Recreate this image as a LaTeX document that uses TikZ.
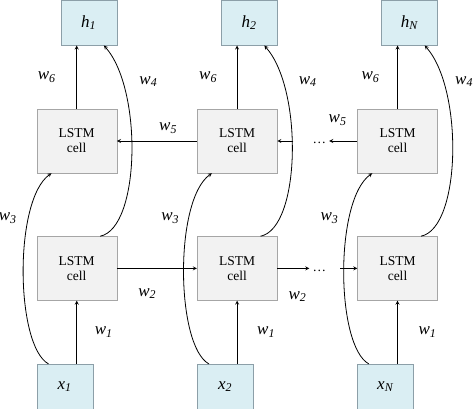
\documentclass[tikz,border=0pt]{standalone}
\usepackage{fontspec}
\setmainfont{Liberation Serif}
\usetikzlibrary{positioning}
\definecolor{cellgray}{HTML}{F2F2F2}
\definecolor{cellline}{HTML}{A6A6A6}
\definecolor{vecfill}{HTML}{DAEEF3}
\definecolor{vecline}{HTML}{8C9FA8}
\newcommand{\vsub}[2]{\textit{#1}\textsubscript{\textit{#2}}}
\tikzstyle{cell} = [rectangle, minimum width=80pt, minimum height=64pt, text centered, align=center, draw=cellline, fill=cellgray, font=\fontsize{13.5}{15}\selectfont]
\tikzstyle{vec} = [rectangle, minimum width=56pt, minimum height=45pt, text centered, draw=vecline, fill=vecfill, font=\fontsize{17}{19}\selectfont]
\tikzstyle{gap} = [inner sep=3pt, font=\fontsize{13.5}{15}\selectfont]
\tikzstyle{wlabel} = [font=\fontsize{17}{19}\selectfont]
\tikzstyle{arrow} = [line width=0.8pt,->,>=stealth]
\begin{document}
\begin{tikzpicture}[x=1pt, y=-1pt]
		\useasboundingbox (0,0) rectangle (474,409);
		\node (upA) [cell] at (76.7,141) {LSTM\\cell};
		\node (loA) [cell, below=63pt of upA] {LSTM\\cell};
		\node (upB) [cell, right=80pt of upA] {LSTM\\cell};
		\node (loB) [cell, below=63pt of upB] {LSTM\\cell};
		\node (upN) [cell, right=80pt of upB] {LSTM\\cell};
		\node (loN) [cell, below=63pt of upN] {LSTM\\cell};
		\node (dotsUp) [gap, right=32pt of upB] {\strut\dots};
		\node (dotsLo) [gap, right=32pt of loB] {\strut\dots};

		\node (hA) [vec, above=63.3pt of upA.north east, anchor=south east] {\vsub{h}{1}};
		\node (hB) [vec, above=63.3pt of upB.north east, anchor=south east] {\vsub{h}{2}};
		\node (hN) [vec, above=63.3pt of upN.north east, anchor=south east] {\vsub{h}{N}};
		\node (xA) [vec, below=63.3pt of loA.south west, anchor=north west] {\vsub{x}{1}};
		\node (xB) [vec, below=63.3pt of loB.south west, anchor=north west] {\vsub{x}{2}};
		\node (xN) [vec, below=63.3pt of loN.south west, anchor=north west] {\vsub{x}{N}};

		% first column
		\draw [arrow] (xA.north -| loA) -- node[wlabel, xshift=27pt] {\vsub{w}{1}} (loA);
		\draw [arrow] (upA) -- node[wlabel, xshift=-30pt] {\vsub{w}{6}} (upA.north |- hA.south);
		\draw [arrow] ([xshift=12pt]xA.north west) .. controls +(-33,-18) and +(-38,27) .. ([xshift=15pt]upA.south west) node[wlabel, pos=.72, xshift=-21pt] {\vsub{w}{3}};
		\draw [arrow] ([xshift=-16.7pt]loA.north east) .. controls +(40,-8) and +(39,44) .. ([xshift=-13pt]hA.south east) node[wlabel, pos=.8, xshift=26pt] {\vsub{w}{4}};

		% second column
		\draw [arrow] (xB.north -| loB) -- node[wlabel, xshift=29pt] {\vsub{w}{1}} (loB);
		\draw [arrow] (upB) -- node[wlabel, xshift=-29pt] {\vsub{w}{6}} (upB.north |- hB.south);
		\draw [arrow] ([xshift=12pt]xB.north west) .. controls +(-33,-18) and +(-38,27) .. ([xshift=15pt]upB.south west) node[wlabel, pos=.72, xshift=-19pt] {\vsub{w}{3}};
		\draw [arrow] ([xshift=-16.7pt]loB.north east) .. controls +(40,-8) and +(39,44) .. ([xshift=-13pt]hB.south east) node[wlabel, pos=.8, xshift=25pt] {\vsub{w}{4}};

		% last column
		\draw [arrow] (xN.north -| loN) -- node[wlabel, xshift=30pt] {\vsub{w}{1}} (loN);
		\draw [arrow] (upN) -- node[wlabel, xshift=-27pt] {\vsub{w}{6}} (upN.north |- hN.south);
		\draw [arrow] ([xshift=11.5pt]xN.north west) .. controls +(-33,-18) and +(-38,27) .. ([xshift=15pt]upN.south west) node[wlabel, pos=.72, xshift=-20pt] {\vsub{w}{3}};
		\draw [arrow] ([xshift=-16.7pt]loN.north east) .. controls +(40,-8) and +(39,44) .. ([xshift=-13pt]hN.south east) node[wlabel, pos=.8, xshift=21pt] {\vsub{w}{4}};

		% across the rows
		\draw [arrow] (loA) -- node[wlabel, pos=.38, yshift=-25pt] {\vsub{w}{2}} (loB);
		\draw [arrow] (loB) -- node[wlabel, pos=.63, yshift=-28pt] {\vsub{w}{2}} (dotsLo);
		\draw [arrow, shorten <=11pt] (dotsLo) -- (loN);
		\draw [arrow] (upB) -- node[wlabel, pos=.36, yshift=13pt] {\vsub{w}{5}} (upA);
		\draw [arrow] (upN) -- node[wlabel, pos=.7, yshift=21pt] {\vsub{w}{5}} (dotsUp);
		\draw [arrow, shorten <=16pt] (dotsUp) -- (upB);
	\end{tikzpicture}
\end{document}
